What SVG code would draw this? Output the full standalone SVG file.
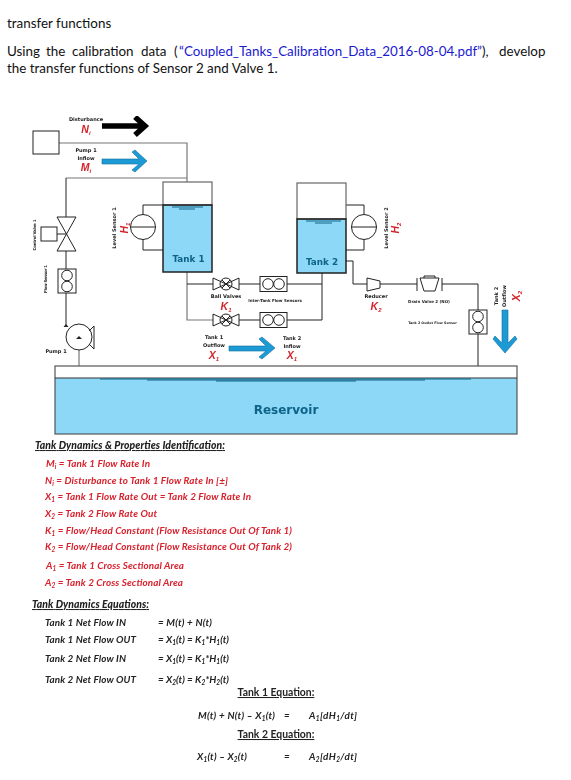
<svg xmlns="http://www.w3.org/2000/svg" xmlns:xlink="http://www.w3.org/1999/xlink" width="571" height="780" viewBox="0 0 571 780">
<style>
text{font-family:"DejaVu Sans","Liberation Sans",sans-serif}
.doc{font-family:Lato,"Liberation Sans",sans-serif;font-size:13.4px;fill:#111}
.lnk{fill:#1a1ad0}
.lab{font-size:5px;font-weight:700;fill:#222;text-anchor:middle}
.tiny{font-size:4px;font-weight:700;fill:#222;text-anchor:middle}
.tiny2{font-size:3.3px}
.red{font-family:"Liberation Sans",sans-serif;font-size:10.5px;font-style:italic;font-weight:700;fill:#d2232a;text-anchor:middle}
.tank{font-size:8.8px;font-weight:700;fill:#0e6488;text-anchor:middle}
.def{font-family:Lato,"Liberation Sans",sans-serif;font-size:9.9px;font-style:italic;font-weight:700;fill:#d8202c}
.eq{font-family:Lato,"Liberation Sans",sans-serif;font-size:9.9px;font-style:italic;font-weight:700;fill:#222}
.hd{font-family:Lato,"Liberation Sans",sans-serif;font-size:10.4px;font-style:italic;font-weight:900;fill:#222;text-decoration:underline}
.hd2{font-family:Lato,"Liberation Sans",sans-serif;font-size:10.4px;font-weight:700;fill:#222;text-decoration:underline;text-anchor:middle}
.k{fill:none;stroke:#222;stroke-width:1}
.g{fill:none;stroke:#777;stroke-width:1.2}
.box{fill:#fff;stroke:#222;stroke-width:1}
.water{fill:#8dd7f7}
.tk{fill:none;stroke:#222;stroke-width:1.5}
.tkt{fill:none;stroke:#666;stroke-width:1.2}
.sf{fill:none;stroke:#0e6488;stroke-width:1}
.blue{fill:#1f9ad6;stroke:#136f9c;stroke-width:.6}
</style>
<defs>
<filter id="soft" x="0" y="0" width="100%" height="100%"><feGaussianBlur stdDeviation="0.35"/></filter>
<g id="ball"><path class="box" d="M-13-6V6L13-6V6Z"/><circle class="k" r="6"/><path class="k" d="M-4-4 4 4M-4 4 4-4"/></g>
<g id="flowH"><rect class="box" x="-13.500" y="-7.500" width="27" height="15"/><circle class="k" cx="-5.500" r="5.300"/><circle class="k" cx="5.500" r="5.300"/></g>
<g id="flowV"><rect class="box" x="-9" y="-12" width="18" height="24"/><circle class="k" cy="-5.500" r="5.300"/><circle class="k" cy="5.500" r="5.300"/></g>
<g id="level"><circle class="box" r="12.500"/><path class="k" d="M-12.500 0H12.500"/></g>
</defs>

<g id="intro">
<text class="doc" x="7" y="28">transfer functions</text>
<text class="doc" x="7" y="56">Using</text>
<text class="doc" x="46" y="56">the</text>
<text class="doc" x="72" y="56">calibration</text>
<text class="doc" x="141" y="56">data</text>
<text class="doc" x="174" y="56">(</text>
<text class="doc lnk" x="179" y="56" textLength="303">“Coupled_Tanks_Calibration_Data_2016-08-04.pdf”</text>
<text class="doc" x="482" y="56">),</text>
<text class="doc" x="499" y="56">develop</text>
<text class="doc" x="7" y="73">the transfer functions of Sensor 2 and Valve 1.</text>
</g>

<g filter="url(#soft)">
<g id="connectors">
<path class="g" d="M59 143H187V182M66 178H187M187 272V320H213M79 338V366"/>
<path class="k" d="M66 178V217M66 251V326M187 284H213M239 284H260M239 320H260M287 284H322M287 320H322M322 273V320M143 215V205H163M143 239V250H163M364 214V205H346M364 240V250H346M346 261H353V284H367M380 284H417M442 284H478V310M478 334V366"/>
<path d="M63.500 327h5l-2.500-3z" fill="#222"/>
</g>

<g id="disturbance-box"><rect class="box" x="33" y="131" width="26" height="23"/></g>

<g id="disturbance-label">
<text class="lab" x="86" y="121">Disturbance</text>
<text class="red" x="86" y="133">N<tspan font-size="6" dy="2">i</tspan></text>
<path d="M102 126H143M135 117 145 126 135 135" fill="none" stroke="#000" stroke-width="5.500"/>
</g>

<g id="pump-inflow-label">
<text class="lab" x="86" y="152">Pump 1</text>
<text class="lab" x="86" y="159.500">Inflow</text>
<text class="red" x="86" y="171">M<tspan font-size="6" dy="2">i</tspan></text>
<path class="blue" d="M102 159H139L132 152 135 150 147 161 135 172 132 170 139 164H102Z"/>
</g>

<g id="control-valve-1">
<path class="box" d="M57 217H76L57 251H76Z"/>
<rect class="box" x="41" y="227" width="16" height="14"/>
<path class="k" d="M57 234H66"/>
<text class="tiny" transform="translate(36 235) rotate(-90)" textLength="31">Control Valve 1</text>
</g>

<g id="flow-sensor-1">
<use xlink:href="#flowV" href="#flowV" x="67" y="281"/>
<text class="tiny" transform="translate(47 279) rotate(-90)" textLength="28">Flow Sensor 1</text>
</g>

<g id="pump-1">
<circle class="box" cx="79" cy="337" r="13"/>
<path class="k" d="M94 326V349M94 326 89 331M94 349 89 344"/>
<path d="M76 339h6l-3-3z" fill="#222"/>
<text class="lab" x="56" y="353">Pump 1</text>
</g>

<g id="tank-1">
<rect class="water" x="163" y="205" width="49" height="67"/>
<rect class="tkt" x="163" y="182" width="49" height="23"/>
<rect class="tk" x="163" y="205" width="49" height="67"/>
<path class="sf" d="M172 207H203M179 209H195"/>
<text class="tank" x="188.500" y="261.500">Tank 1</text>
</g>

<g id="level-sensor-1">
<use xlink:href="#level" href="#level" x="143" y="227"/>
<text class="lab" transform="translate(116 228) rotate(-90)">Level Sensor 1</text>
<text class="red" transform="translate(127.500 228) rotate(-90)">H<tspan font-size="6" dy="2">1</tspan></text>
</g>

<g id="tank-2">
<rect class="water" x="297" y="219" width="49" height="54"/>
<rect class="tkt" x="297" y="183" width="49" height="36"/>
<rect class="tk" x="297" y="219" width="49" height="54"/>
<path class="sf" d="M306 221H341M315 223H332"/>
<text class="tank" x="322" y="265">Tank 2</text>
</g>

<g id="level-sensor-2">
<use xlink:href="#level" href="#level" x="364" y="227"/>
<text class="lab" transform="translate(388 228) rotate(-90)">Level Sensor 2</text>
<text class="red" transform="translate(399 228) rotate(-90)">H<tspan font-size="6" dy="2">2</tspan></text>
</g>

<g id="ball-valves">
<use xlink:href="#ball" href="#ball" x="226" y="284"/>
<use xlink:href="#ball" href="#ball" x="226" y="320"/>
<text class="lab" x="226" y="298">Ball Valves</text>
<text class="red" x="226" y="310">K<tspan font-size="6" dy="2">1</tspan></text>
</g>

<g id="inter-tank-flow-sensors">
<use xlink:href="#flowH" href="#flowH" x="273.500" y="284"/>
<use xlink:href="#flowH" href="#flowH" x="273.500" y="320"/>
<text class="tiny" x="275" y="302">Inter-Tank Flow Sensors</text>
</g>

<g id="tank-1-outflow">
<text class="lab" x="214" y="339">Tank 1</text>
<text class="lab" x="214" y="347">Outflow</text>
<text class="red" x="214" y="359">X<tspan font-size="6" dy="2">1</tspan></text>
<path class="blue" d="M229 346H266L259 339 262 337 275 348 262 359 259 357 266 351H229Z"/>
<text class="lab" x="292" y="340">Tank 2</text>
<text class="lab" x="292" y="348">Inflow</text>
<text class="red" x="292" y="359">X<tspan font-size="6" dy="2">1</tspan></text>
</g>

<g id="reducer">
<path class="box" d="M367 278 380 281V288L367 291Z"/>
<text class="lab" x="376" y="298">Reducer</text>
<text class="red" x="376" y="310">K<tspan font-size="6" dy="2">2</tspan></text>
</g>

<g id="drain-valve-2">
<path class="k" d="M417 278V291M442 278V291M420 278H439L435 291H424ZM424 278V276H435V278"/>
<text class="tiny" x="429" y="303">Drain Valve 2 (NO)</text>
</g>

<g id="tank-2-outlet-flow-sensor">
<use xlink:href="#flowV" href="#flowV" x="478" y="322"/>
<text class="tiny tiny2" x="432.500" y="324">Tank 2 Outlet Flow Sensor</text>
</g>

<g id="tank-2-outflow">
<path class="blue" d="M502 310H508V343L515 336 517 339 505 353 493 339 495 336 502 343Z"/>
<text class="lab" transform="translate(498 296) rotate(-90)">Tank 2</text>
<text class="lab" transform="translate(506 296) rotate(-90)">Outflow</text>
<text class="red" transform="translate(520 296) rotate(-90)">X<tspan font-size="6" dy="2">2</tspan></text>
</g>

<g id="reservoir">
<rect class="water" x="55" y="378" width="462" height="56"/>
<rect x="55" y="366" width="462" height="68" fill="none" stroke="#555" stroke-width="1.200"/>
<path d="M55 378H517" stroke="#333" fill="none"/>
<path class="sf" d="M100 379H471M147 380H425M216 381H356"/>
<text x="286" y="414" font-size="12" font-weight="700" fill="#0e6488" text-anchor="middle">Reservoir</text>
</g>

<g id="properties">
<text class="hd" x="35" y="449" textLength="190">Tank Dynamics &amp; Properties Identification:</text>
<text class="def" x="46" y="467" textLength="104">M<tspan font-size="6.500" dy="2">i</tspan><tspan dy="-2"> = Tank 1 Flow Rate In</tspan></text>
<text class="def" x="45" y="484" textLength="183">N<tspan font-size="6.500" dy="2">i</tspan><tspan dy="-2"> = Disturbance to Tank 1 Flow Rate In [±]</tspan></text>
<text class="def" x="45" y="500" textLength="206">X<tspan font-size="6.500" dy="2">1</tspan><tspan dy="-2"> = Tank 1 Flow Rate Out = Tank 2 Flow Rate In</tspan></text>
<text class="def" x="45" y="517" textLength="112">X<tspan font-size="6.500" dy="2">2</tspan><tspan dy="-2"> = Tank 2 Flow Rate Out</tspan></text>
<text class="def" x="45" y="534" textLength="247">K<tspan font-size="6.500" dy="2">1</tspan><tspan dy="-2"> = Flow/Head Constant (Flow Resistance Out Of Tank 1)</tspan></text>
<text class="def" x="45" y="550" textLength="247">K<tspan font-size="6.500" dy="2">2</tspan><tspan dy="-2"> = Flow/Head Constant (Flow Resistance Out Of Tank 2)</tspan></text>
<text class="def" x="46" y="569" textLength="138">A<tspan font-size="6.500" dy="2">1</tspan><tspan dy="-2"> = Tank 1 Cross Sectional Area</tspan></text>
<text class="def" x="45" y="586" textLength="138">A<tspan font-size="6.500" dy="2">2</tspan><tspan dy="-2"> = Tank 2 Cross Sectional Area</tspan></text>
</g>

<g id="equations">
<text class="hd" x="32" y="608" textLength="117">Tank Dynamics Equations:</text>
<text class="eq" x="45" y="626" textLength="81">Tank 1 Net Flow IN</text>
<text class="eq" x="158" y="626" textLength="54">= M(t) + N(t)</text>
<text class="eq" x="45" y="643" textLength="91">Tank 1 Net Flow OUT</text>
<text class="eq" x="158" y="643" textLength="71">= X<tspan font-size="6.500" dy="2">1</tspan><tspan dy="-2">(t) = K</tspan><tspan font-size="6.500" dy="2">1</tspan><tspan dy="-2">*H</tspan><tspan font-size="6.500" dy="2">1</tspan><tspan dy="-2">(t)</tspan></text>
<text class="eq" x="45" y="662" textLength="81">Tank 2 Net Flow IN</text>
<text class="eq" x="158" y="662" textLength="71">= X<tspan font-size="6.500" dy="2">1</tspan><tspan dy="-2">(t) = K</tspan><tspan font-size="6.500" dy="2">1</tspan><tspan dy="-2">*H</tspan><tspan font-size="6.500" dy="2">1</tspan><tspan dy="-2">(t)</tspan></text>
<text class="eq" x="45" y="683" textLength="91">Tank 2 Net Flow OUT</text>
<text class="eq" x="158" y="683" textLength="71">= X<tspan font-size="6.500" dy="2">2</tspan><tspan dy="-2">(t) = K</tspan><tspan font-size="6.500" dy="2">2</tspan><tspan dy="-2">*H</tspan><tspan font-size="6.500" dy="2">2</tspan><tspan dy="-2">(t)</tspan></text>
<text class="hd2" x="276" y="696">Tank 1 Equation:</text>
<text class="eq" x="198" y="719" textLength="77">M(t) + N(t) – X<tspan font-size="6.500" dy="2">1</tspan><tspan dy="-2">(t)</tspan></text>
<text class="eq" x="284" y="719">=</text>
<text class="eq" x="309" y="719" textLength="48">A<tspan font-size="6.500" dy="2">1</tspan><tspan dy="-2">[dH</tspan><tspan font-size="6.500" dy="2">1</tspan><tspan dy="-2">/dt]</tspan></text>
<text class="hd2" x="276" y="738">Tank 2 Equation:</text>
<text class="eq" x="197" y="760" textLength="50">X<tspan font-size="6.500" dy="2">1</tspan><tspan dy="-2">(t) – X</tspan><tspan font-size="6.500" dy="2">2</tspan><tspan dy="-2">(t)</tspan></text>
<text class="eq" x="284" y="760">=</text>
<text class="eq" x="309" y="760" textLength="48">A<tspan font-size="6.500" dy="2">2</tspan><tspan dy="-2">[dH</tspan><tspan font-size="6.500" dy="2">2</tspan><tspan dy="-2">/dt]</tspan></text>
</g>
</g>
</svg>
